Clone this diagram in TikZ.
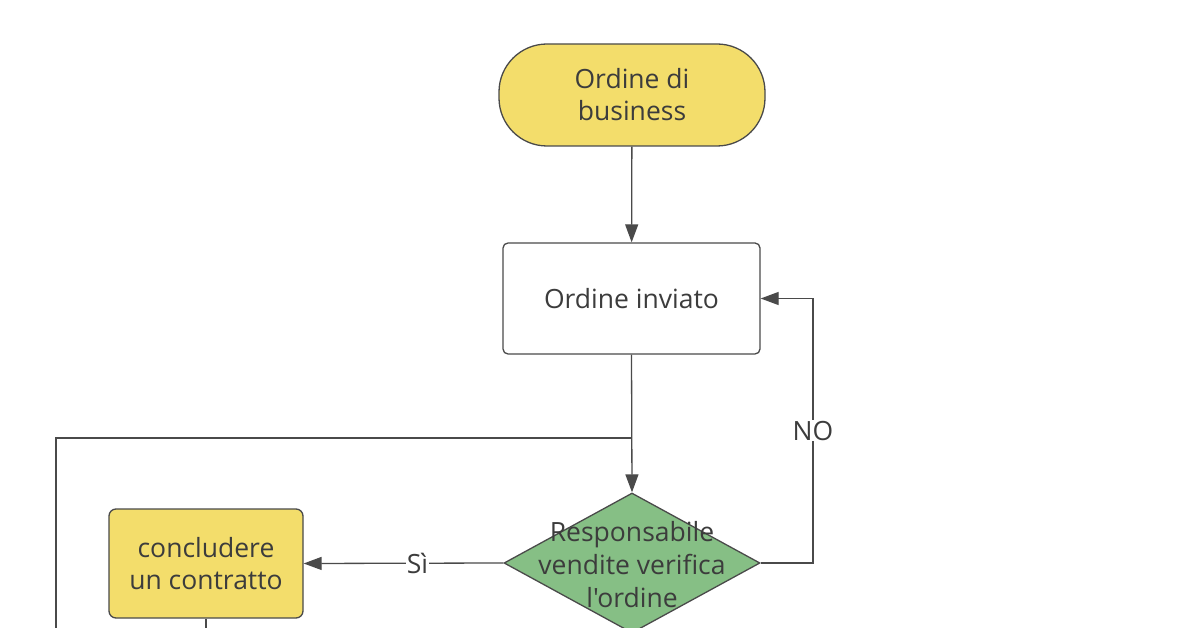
\documentclass[tikz,border=0pt]{standalone}
\usepackage{fontspec}
\setmainfont{Open Sans}[Ligatures=TeXOff]
\usetikzlibrary{shapes.geometric,arrows.meta}
\definecolor{ln}{HTML}{4A4A4A}
\definecolor{yel}{HTML}{F3DD6B}
\definecolor{grn}{HTML}{86BF85}
\definecolor{txt}{HTML}{3C3C3C}
\tikzset{
  base/.style={draw=ln, line width=1.3pt, align=center, text=txt, font=\fontsize{26.5}{32}\selectfont, inner sep=0pt},
  term/.style={base, fill=yel, rounded corners=48pt, minimum width=266pt, minimum height=102pt},
  proc/.style={base, fill=white, rounded corners=5pt, minimum width=257pt, minimum height=111pt},
  procy/.style={base, fill=yel, rounded corners=7pt, minimum width=194pt, minimum height=109pt},
  dec/.style={draw=ln, line width=1.3pt, fill=grn, diamond, minimum width=256pt, minimum height=140pt, inner sep=0pt},
  dectext/.style={align=center, text=txt, font=\fontsize{26.5}{33}\selectfont, inner sep=0pt},
  line/.style={draw=ln, line width=1.3pt},
  arr/.style={line, -{Triangle[length=18pt,width=13pt]}},
  lbl/.style={fill=white, text=txt, font=\fontsize{26.5}{30}\selectfont, inner sep=1pt}
}
\begin{document}
\begin{tikzpicture}[x=1pt,y=-1pt]
\useasboundingbox (0,0) rectangle (1200,628);
\node[term] (start) at (632,95) {Ordine di\\business};
\node[proc] (sent) at (631.5,298.5) {Ordine inviato};
\node[dec] (check) at (632,563) {};
\node[procy] (contract) at (206,563.5) {concludere\\un contratto};
\coordinate (junc) at (631.5,438);
\coordinate (loopin) at (56,640);
\coordinate (noc) at (813,563);
\coordinate (cbot) at (206,640);
\draw[arr] (start) -- (sent);
\draw[arr] (sent.south) -- (check.north);
\draw[line] (loopin) |- (junc);
\draw[arr] (check.east) -- (noc) -- node[lbl]{NO} (noc |- sent.east) -- (sent.east);
\draw[arr] (check.west) -- node[lbl, pos=0.43]{Sì} (contract.east);
\draw[line] (contract.south) -- (cbot);
\node[dectext] (checklbl) at (632,565) {Responsabile\\vendite verifica\\l'ordine};
\end{tikzpicture}
\end{document}
